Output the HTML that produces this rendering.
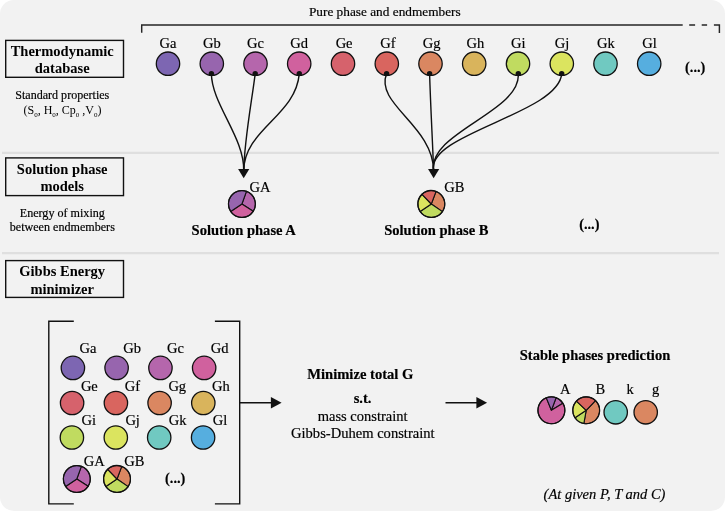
<!DOCTYPE html>
<html><head><meta charset="utf-8"><title>Diagram</title>
<style>html,body{margin:0;padding:0;background:#fff;overflow:hidden}svg{display:block;will-change:transform}</style></head>
<body>
<svg width="725" height="511" viewBox="0 0 725 511" font-family="'Liberation Serif', serif" fill="#000" stroke="#000" stroke-width="0">
<rect x="0" y="0" width="725" height="511" rx="14" ry="14" fill="#f2f2f2"/>
<line x1="2" y1="152.9" x2="719" y2="152.9" stroke="#dfdfdf" stroke-width="2.3"/>
<line x1="2" y1="253.2" x2="719" y2="253.2" stroke="#dfdfdf" stroke-width="2.3"/>
<rect x="5.7" y="40.4" width="117.8" height="36.9" fill="none" stroke="#111" stroke-width="1.4"/>
<text x="62.2" y="55.5" font-size="14.5" font-weight="bold" text-anchor="middle">Thermodynamic</text>
<text x="62.2" y="73.2" font-size="14.5" font-weight="bold" text-anchor="middle">database</text>
<rect x="5.7" y="157.9" width="117.8" height="37.7" fill="none" stroke="#111" stroke-width="1.4"/>
<text x="62.2" y="173.8" font-size="14.5" font-weight="bold" text-anchor="middle">Solution phase</text>
<text x="62.2" y="190.8" font-size="14.5" font-weight="bold" text-anchor="middle">models</text>
<rect x="5.7" y="260.6" width="117.8" height="36.8" fill="none" stroke="#111" stroke-width="1.4"/>
<text x="62.2" y="276" font-size="14.5" font-weight="bold" text-anchor="middle">Gibbs Energy</text>
<text x="62.2" y="293.5" font-size="14.5" font-weight="bold" text-anchor="middle">minimizer</text>
<text x="62.3" y="99" font-size="12.05" text-anchor="middle" stroke-width="0.18" >Standard properties</text>
<text x="62.5" y="114" font-size="12" text-anchor="middle">(S<tspan font-size="7" dy="3.1">0</tspan><tspan dy="-3.1">, H</tspan><tspan font-size="7" dy="3.1">0</tspan><tspan dy="-3.1">, Cp</tspan><tspan font-size="7" dy="3.1">0</tspan><tspan dy="-3.1"> ,V</tspan><tspan font-size="7" dy="3.1">0</tspan><tspan dy="-3.1">)</tspan></text>
<text x="62.3" y="217" font-size="12.1" text-anchor="middle" stroke-width="0.18" >Energy of mixing</text>
<text x="62.3" y="231.1" font-size="12.1" text-anchor="middle" stroke-width="0.18" >between endmembers</text>
<text x="384.8" y="16.2" font-size="13.3" text-anchor="middle" stroke-width="0.18" >Pure phase and endmembers</text>
<path d="M141.7 32.8V25H682.7" fill="none" stroke="#262626" stroke-width="1.45"/>
<path d="M689.2 25H695.1M701.7 25H707.1M713.9 25H719.4V33" fill="none" stroke="#262626" stroke-width="1.45"/>
<circle cx="168.0" cy="63.7" r="11.7" fill="#7d66b2" stroke="#111" stroke-width="1.3"/>
<text x="168.0" y="48" font-size="14.5" text-anchor="middle" stroke-width="0.18" >Ga</text>
<circle cx="211.8" cy="63.7" r="11.7" fill="#9765ae" stroke="#111" stroke-width="1.3"/>
<text x="211.8" y="48" font-size="14.5" text-anchor="middle" stroke-width="0.18" >Gb</text>
<circle cx="255.5" cy="63.7" r="11.7" fill="#b566ac" stroke="#111" stroke-width="1.3"/>
<text x="255.5" y="48" font-size="14.5" text-anchor="middle" stroke-width="0.18" >Gc</text>
<circle cx="299.2" cy="63.7" r="11.7" fill="#d0619e" stroke="#111" stroke-width="1.3"/>
<text x="299.2" y="48" font-size="14.5" text-anchor="middle" stroke-width="0.18" >Gd</text>
<circle cx="343.0" cy="63.7" r="11.7" fill="#d6626c" stroke="#111" stroke-width="1.3"/>
<text x="344.1" y="48" font-size="14.5" text-anchor="middle" stroke-width="0.18" >Ge</text>
<circle cx="386.8" cy="63.7" r="11.7" fill="#d9655f" stroke="#111" stroke-width="1.3"/>
<text x="387.9" y="48" font-size="14.5" text-anchor="middle" stroke-width="0.18" >Gf</text>
<circle cx="430.5" cy="63.7" r="11.7" fill="#da8761" stroke="#111" stroke-width="1.3"/>
<text x="431.6" y="48" font-size="14.5" text-anchor="middle" stroke-width="0.18" >Gg</text>
<circle cx="474.2" cy="63.7" r="11.7" fill="#d9b45c" stroke="#111" stroke-width="1.3"/>
<text x="475.4" y="48" font-size="14.5" text-anchor="middle" stroke-width="0.18" >Gh</text>
<circle cx="518.0" cy="63.7" r="11.7" fill="#c0db60" stroke="#111" stroke-width="1.3"/>
<text x="518.3" y="48" font-size="14.5" text-anchor="middle" stroke-width="0.18" >Gi</text>
<circle cx="561.8" cy="63.7" r="11.7" fill="#dbe45f" stroke="#111" stroke-width="1.3"/>
<text x="562.0" y="48" font-size="14.5" text-anchor="middle" stroke-width="0.18" >Gj</text>
<circle cx="605.5" cy="63.7" r="11.7" fill="#70c9c1" stroke="#111" stroke-width="1.3"/>
<text x="605.8" y="48" font-size="14.5" text-anchor="middle" stroke-width="0.18" >Gk</text>
<circle cx="649.2" cy="63.7" r="11.7" fill="#56aedf" stroke="#111" stroke-width="1.3"/>
<text x="649.5" y="48" font-size="14.5" text-anchor="middle" stroke-width="0.18" >Gl</text>
<text x="695.2" y="71.9" font-size="14.3" text-anchor="middle" stroke-width="0.18" font-weight="bold">(...)</text>
<path d="M211.4 73.6C211.5 103.9 244.9 138.2 243.7 171" fill="none" stroke="#111" stroke-width="1.4"/>
<path d="M255.2 73.6C251.9 100.6 244.4 139.4 243.7 171" fill="none" stroke="#111" stroke-width="1.4"/>
<path d="M299.3 73.6C295.6 116.4 243.8 129.4 243.7 171" fill="none" stroke="#111" stroke-width="1.4"/>
<circle cx="211.4" cy="73.6" r="2.7" fill="#111"/>
<circle cx="255.2" cy="73.6" r="2.7" fill="#111"/>
<circle cx="299.3" cy="73.6" r="2.7" fill="#111"/>
<path d="M238.1 169.0H249.29999999999998L243.7 178.3Z" fill="#111"/>
<path d="M386.6 73.6C374.6 104.3 433.3 125.5 433.65 171" fill="none" stroke="#111" stroke-width="1.4"/>
<path d="M429.6 73.6C430.5 105 432.5 140 433.65 171" fill="none" stroke="#111" stroke-width="1.4"/>
<path d="M518.3 73.6C521.1 112 427.3 132.4 433.65 171" fill="none" stroke="#111" stroke-width="1.4"/>
<path d="M561.7 73.6C558.7 113.9 425.1 133.6 433.65 171" fill="none" stroke="#111" stroke-width="1.4"/>
<circle cx="386.6" cy="73.6" r="2.7" fill="#111"/>
<circle cx="429.6" cy="73.6" r="2.7" fill="#111"/>
<circle cx="518.3" cy="73.6" r="2.7" fill="#111"/>
<circle cx="561.7" cy="73.6" r="2.7" fill="#111"/>
<path d="M428.04999999999995 169.0H439.25L433.65 178.3Z" fill="#111"/>
<path d="M241.9 204L246.46 191.35A13.45 13.45 0 0 1 253.18 211.33Z" fill="#b566ac" stroke="#111" stroke-width="1.1" stroke-linejoin="round"/>
<path d="M241.9 204L253.18 211.33A13.45 13.45 0 0 1 230.71 211.46Z" fill="#d0619e" stroke="#111" stroke-width="1.1" stroke-linejoin="round"/>
<path d="M241.9 204L230.71 211.46A13.45 13.45 0 0 1 246.46 191.35Z" fill="#9765ae" stroke="#111" stroke-width="1.1" stroke-linejoin="round"/>
<circle cx="241.9" cy="204" r="13.45" fill="none" stroke="#111" stroke-width="1.2"/>
<text x="249.6" y="191.7" font-size="14.5" text-anchor="start" stroke-width="0.18" >GA</text>
<path d="M431.3 204L436.05 191.42A13.45 13.45 0 0 1 442.41 211.58Z" fill="#da8761" stroke="#111" stroke-width="1.1" stroke-linejoin="round"/>
<path d="M431.3 204L442.41 211.58A13.45 13.45 0 0 1 420.16 211.54Z" fill="#c0db60" stroke="#111" stroke-width="1.1" stroke-linejoin="round"/>
<path d="M431.3 204L420.16 211.54A13.45 13.45 0 0 1 422.03 194.26Z" fill="#dbe45f" stroke="#111" stroke-width="1.1" stroke-linejoin="round"/>
<path d="M431.3 204L422.03 194.26A13.45 13.45 0 0 1 436.05 191.42Z" fill="#d9655f" stroke="#111" stroke-width="1.1" stroke-linejoin="round"/>
<circle cx="431.3" cy="204" r="13.45" fill="none" stroke="#111" stroke-width="1.2"/>
<text x="444.2" y="191.7" font-size="14.5" text-anchor="start" stroke-width="0.18" >GB</text>
<text x="243.7" y="235.3" font-size="14.55" text-anchor="middle" stroke-width="0.18" font-weight="bold">Solution phase A</text>
<text x="436.3" y="235.3" font-size="14.55" text-anchor="middle" stroke-width="0.18" font-weight="bold">Solution phase B</text>
<text x="589.3" y="229" font-size="14.3" text-anchor="middle" stroke-width="0.18" font-weight="bold">(...)</text>
<path d="M73.8 321.2H48.8V503.9H73.8" fill="none" stroke="#111" stroke-width="1.4"/>
<path d="M214.9 321.2H239.7V503.9H214.9" fill="none" stroke="#111" stroke-width="1.4"/>
<circle cx="72.9" cy="367.9" r="11.7" fill="#7d66b2" stroke="#111" stroke-width="1.3"/>
<text x="79.5" y="352.6" font-size="14.5" text-anchor="start" stroke-width="0.18" >Ga</text>
<circle cx="116.6" cy="367.9" r="11.7" fill="#9765ae" stroke="#111" stroke-width="1.3"/>
<text x="123.2" y="352.6" font-size="14.5" text-anchor="start" stroke-width="0.18" >Gb</text>
<circle cx="160.45" cy="367.9" r="11.7" fill="#b566ac" stroke="#111" stroke-width="1.3"/>
<text x="167.05" y="352.6" font-size="14.5" text-anchor="start" stroke-width="0.18" >Gc</text>
<circle cx="204.15" cy="367.9" r="11.7" fill="#d0619e" stroke="#111" stroke-width="1.3"/>
<text x="210.75" y="352.6" font-size="14.5" text-anchor="start" stroke-width="0.18" >Gd</text>
<circle cx="72.1" cy="403.0" r="11.7" fill="#d6626c" stroke="#111" stroke-width="1.3"/>
<text x="80.9" y="391.0" font-size="14.5" text-anchor="start" stroke-width="0.18" >Ge</text>
<circle cx="115.9" cy="403.0" r="11.7" fill="#d9655f" stroke="#111" stroke-width="1.3"/>
<text x="124.7" y="391.0" font-size="14.5" text-anchor="start" stroke-width="0.18" >Gf</text>
<circle cx="159.6" cy="403.0" r="11.7" fill="#da8761" stroke="#111" stroke-width="1.3"/>
<text x="168.4" y="391.0" font-size="14.5" text-anchor="start" stroke-width="0.18" >Gg</text>
<circle cx="203.3" cy="403.0" r="11.7" fill="#d9b45c" stroke="#111" stroke-width="1.3"/>
<text x="212.1" y="391.0" font-size="14.5" text-anchor="start" stroke-width="0.18" >Gh</text>
<circle cx="71.9" cy="437.5" r="11.7" fill="#c0db60" stroke="#111" stroke-width="1.3"/>
<text x="81.5" y="425.3" font-size="14.5" text-anchor="start" stroke-width="0.18" >Gi</text>
<circle cx="115.8" cy="437.5" r="11.7" fill="#dbe45f" stroke="#111" stroke-width="1.3"/>
<text x="125.4" y="425.3" font-size="14.5" text-anchor="start" stroke-width="0.18" >Gj</text>
<circle cx="159.2" cy="437.5" r="11.7" fill="#70c9c1" stroke="#111" stroke-width="1.3"/>
<text x="168.8" y="425.3" font-size="14.5" text-anchor="start" stroke-width="0.18" >Gk</text>
<circle cx="203.1" cy="437.5" r="11.7" fill="#56aedf" stroke="#111" stroke-width="1.3"/>
<text x="212.7" y="425.3" font-size="14.5" text-anchor="start" stroke-width="0.18" >Gl</text>
<path d="M76.8 479.0L81.36 466.35A13.45 13.45 0 0 1 88.08 486.33Z" fill="#b566ac" stroke="#111" stroke-width="1.1" stroke-linejoin="round"/>
<path d="M76.8 479.0L88.08 486.33A13.45 13.45 0 0 1 65.61 486.46Z" fill="#d0619e" stroke="#111" stroke-width="1.1" stroke-linejoin="round"/>
<path d="M76.8 479.0L65.61 486.46A13.45 13.45 0 0 1 81.36 466.35Z" fill="#9765ae" stroke="#111" stroke-width="1.1" stroke-linejoin="round"/>
<circle cx="76.8" cy="479.0" r="13.45" fill="none" stroke="#111" stroke-width="1.2"/>
<text x="83.8" y="465.6" font-size="14.5" text-anchor="start" stroke-width="0.18" >GA</text>
<path d="M117.0 479.0L121.75 466.42A13.45 13.45 0 0 1 128.11 486.58Z" fill="#da8761" stroke="#111" stroke-width="1.1" stroke-linejoin="round"/>
<path d="M117.0 479.0L128.11 486.58A13.45 13.45 0 0 1 105.86 486.54Z" fill="#c0db60" stroke="#111" stroke-width="1.1" stroke-linejoin="round"/>
<path d="M117.0 479.0L105.86 486.54A13.45 13.45 0 0 1 107.73 469.26Z" fill="#dbe45f" stroke="#111" stroke-width="1.1" stroke-linejoin="round"/>
<path d="M117.0 479.0L107.73 469.26A13.45 13.45 0 0 1 121.75 466.42Z" fill="#d9655f" stroke="#111" stroke-width="1.1" stroke-linejoin="round"/>
<circle cx="117.0" cy="479.0" r="13.45" fill="none" stroke="#111" stroke-width="1.2"/>
<text x="124.3" y="465.6" font-size="14.5" text-anchor="start" stroke-width="0.18" >GB</text>
<text x="175.2" y="483" font-size="14.3" text-anchor="middle" stroke-width="0.18" font-weight="bold">(...)</text>
<path d="M239.7 402.7H272" fill="none" stroke="#111" stroke-width="1.4"/><path d="M270.9 397L281.6 402.7L270.9 408.4Z" fill="#111"/>
<path d="M445.5 402.7H478" fill="none" stroke="#111" stroke-width="1.4"/><path d="M476.4 397L487.1 402.7L476.4 408.4Z" fill="#111"/>
<text x="360.3" y="378.7" font-size="14.6" text-anchor="middle" stroke-width="0.18" font-weight="bold">Minimize total G</text>
<text x="362.6" y="403.1" font-size="14.5" text-anchor="middle" stroke-width="0.18" font-weight="bold">s.t.</text>
<text x="362.6" y="420.7" font-size="14.5" text-anchor="middle" stroke-width="0.18" >mass constraint</text>
<text x="362.8" y="437.6" font-size="14.57" text-anchor="middle" stroke-width="0.18" >Gibbs-Duhem constraint</text>
<text x="595" y="359.9" font-size="14.5" text-anchor="middle" stroke-width="0.18" font-weight="bold">Stable phases prediction</text>
<path d="M551.4 410.3L556.09 397.69A13.45 13.45 0 0 1 562.91 403.33Z" fill="#b566ac" stroke="#111" stroke-width="1.1" stroke-linejoin="round"/>
<path d="M551.4 410.3L562.91 403.33A13.45 13.45 0 1 1 546.32 397.85Z" fill="#d0619e" stroke="#111" stroke-width="1.1" stroke-linejoin="round"/>
<path d="M551.4 410.3L546.32 397.85A13.45 13.45 0 0 1 556.09 397.69Z" fill="#9765ae" stroke="#111" stroke-width="1.1" stroke-linejoin="round"/>
<circle cx="551.4" cy="410.3" r="13.45" fill="none" stroke="#111" stroke-width="1.2"/>
<path d="M586.2 410.3L595.48 400.56A13.45 13.45 0 0 1 583.82 423.54Z" fill="#da8761" stroke="#111" stroke-width="1.1" stroke-linejoin="round"/>
<path d="M586.2 410.3L583.82 423.54A13.45 13.45 0 0 1 575.00 417.75Z" fill="#c0db60" stroke="#111" stroke-width="1.1" stroke-linejoin="round"/>
<path d="M586.2 410.3L575.00 417.75A13.45 13.45 0 0 1 576.45 401.03Z" fill="#dbe45f" stroke="#111" stroke-width="1.1" stroke-linejoin="round"/>
<path d="M586.2 410.3L576.45 401.03A13.45 13.45 0 0 1 595.47 400.55Z" fill="#d9655f" stroke="#111" stroke-width="1.1" stroke-linejoin="round"/>
<circle cx="586.2" cy="410.3" r="13.45" fill="none" stroke="#111" stroke-width="1.2"/>
<circle cx="615.7" cy="412.3" r="11.7" fill="#70c9c1" stroke="#111" stroke-width="1.3"/>
<circle cx="645.7" cy="412.3" r="11.7" fill="#da8761" stroke="#111" stroke-width="1.3"/>
<text x="565.3" y="393.8" font-size="14.5" text-anchor="middle" stroke-width="0.18" >A</text>
<text x="600.3" y="393.8" font-size="14.5" text-anchor="middle" stroke-width="0.18" >B</text>
<text x="630" y="393.8" font-size="14.5" text-anchor="middle" stroke-width="0.18" >k</text>
<text x="655.6" y="393.8" font-size="14.5" text-anchor="middle" stroke-width="0.18" >g</text>
<text x="604.5" y="499" font-size="14.5" text-anchor="middle" stroke-width="0.18" font-style="italic">(At given P, T and C)</text>
</svg>
</body></html>
